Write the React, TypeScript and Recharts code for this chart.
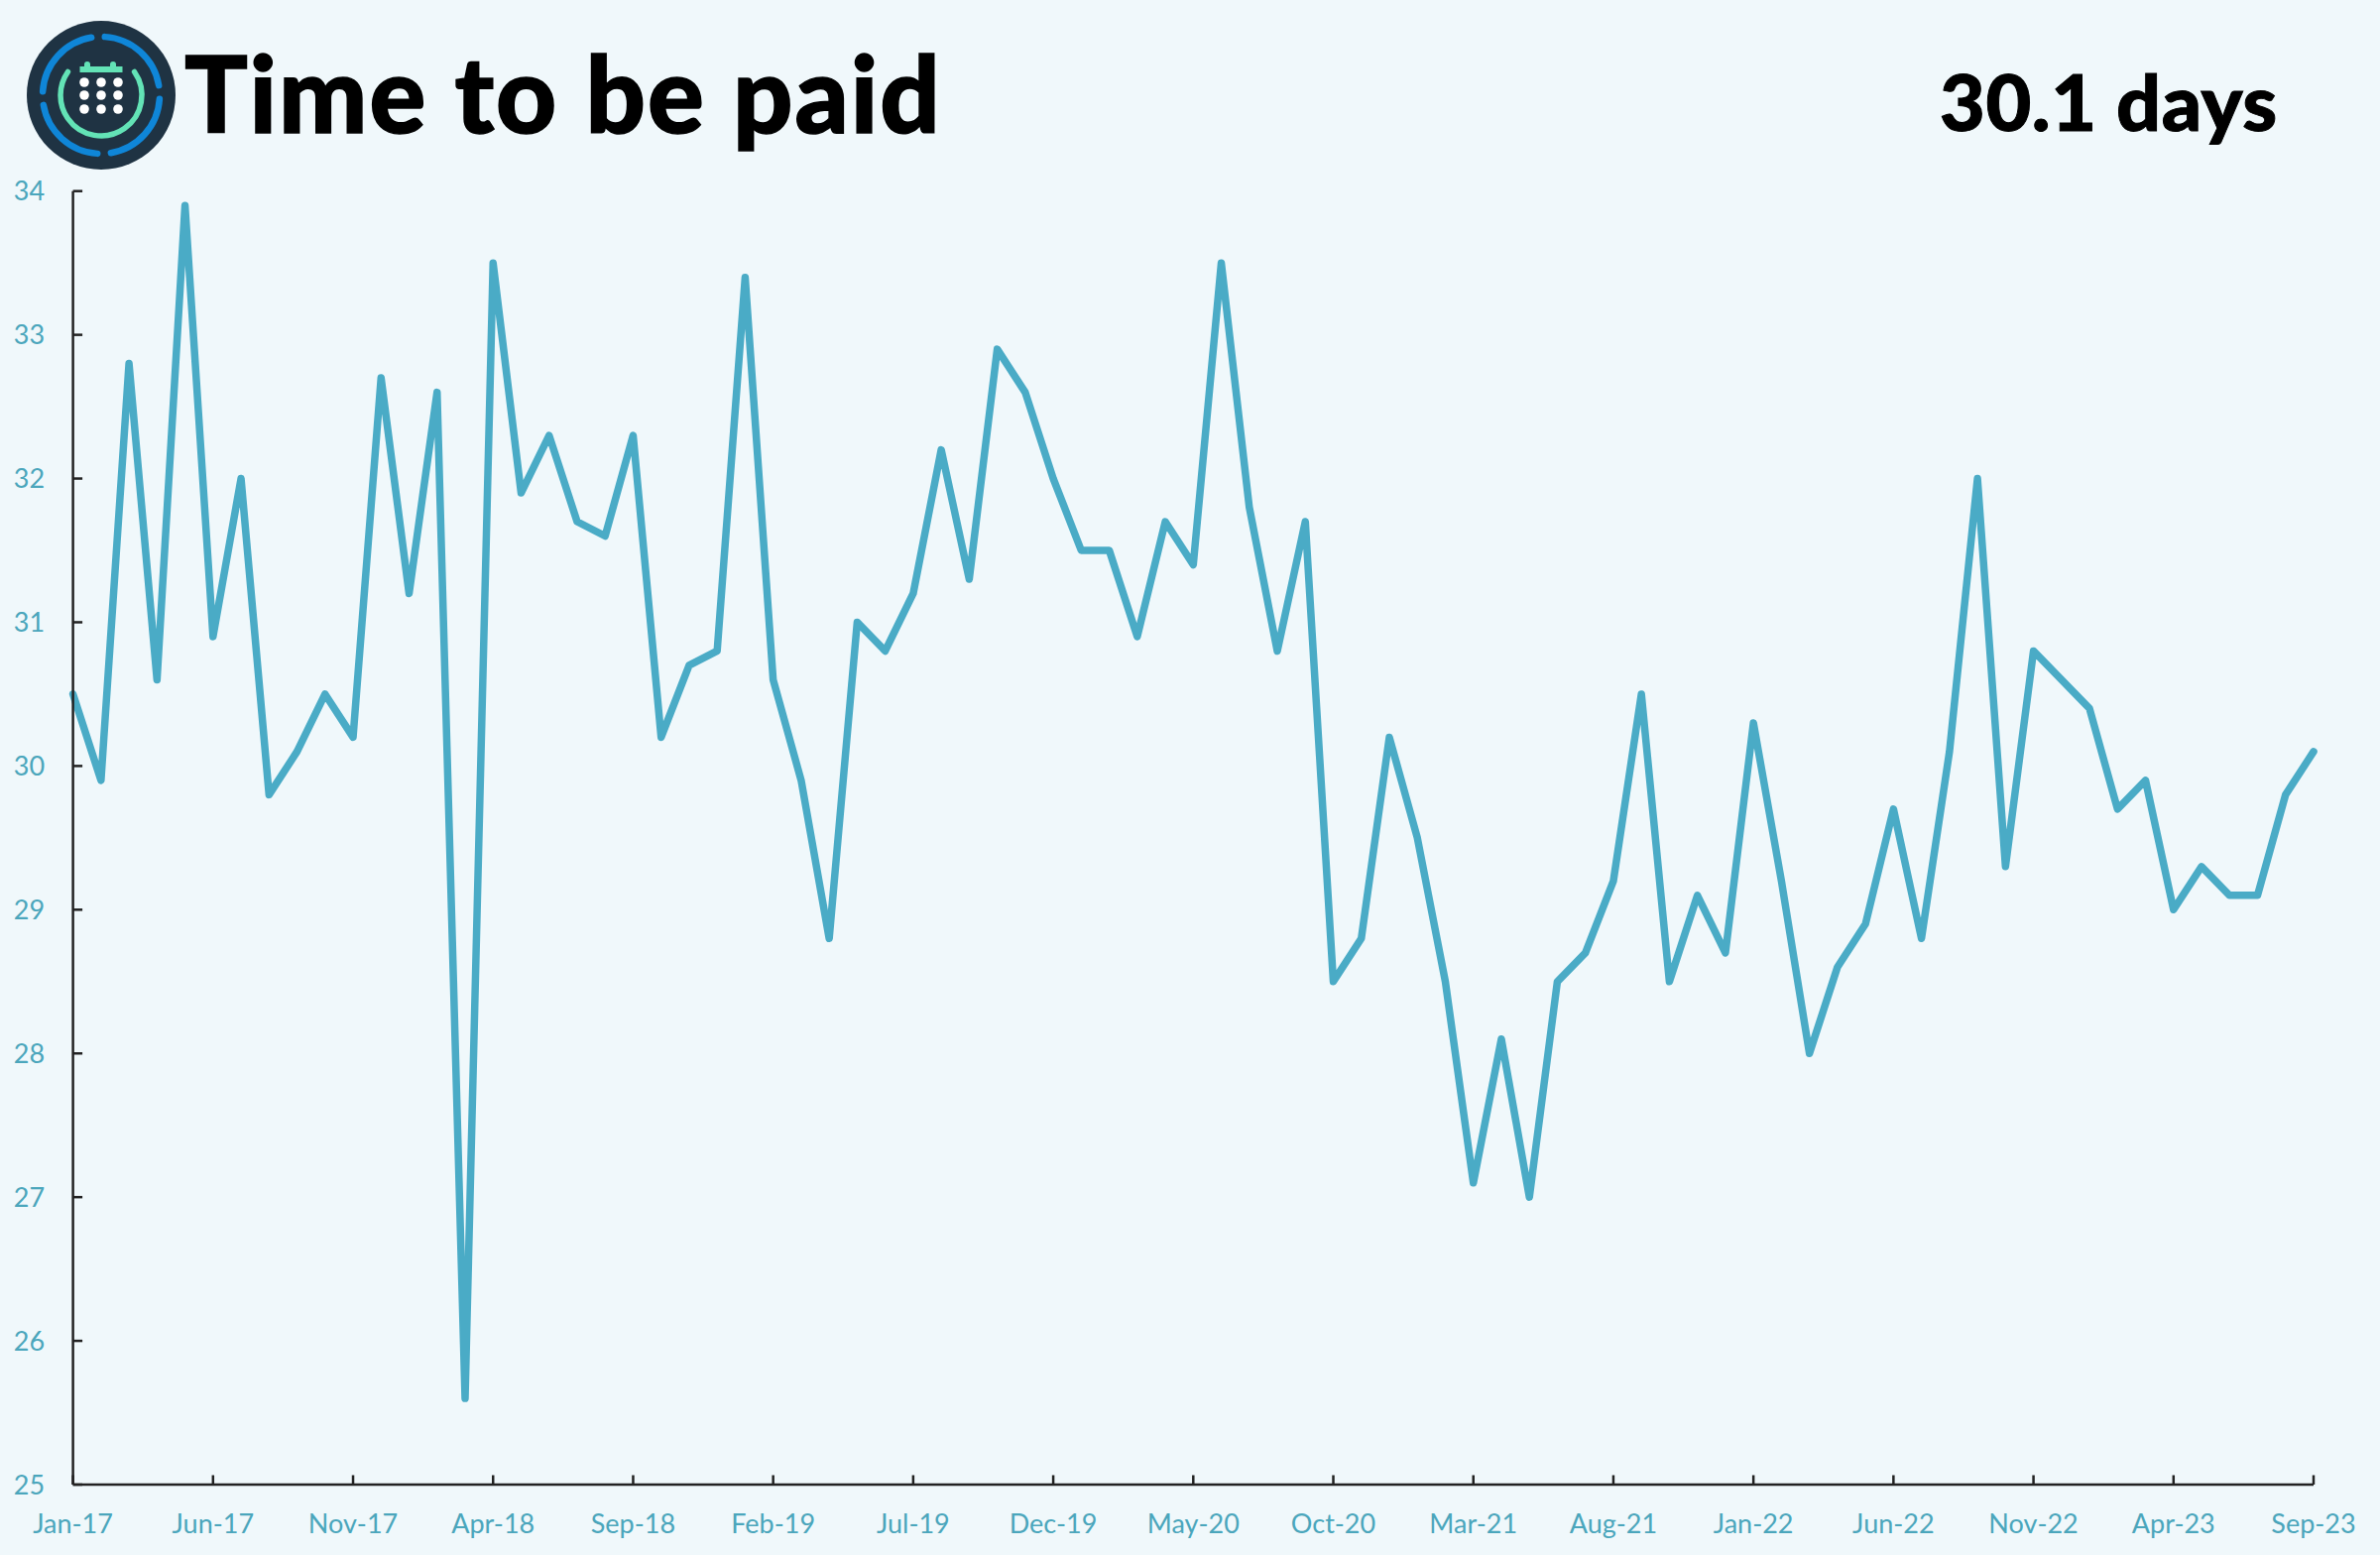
import { LineChart, Line, XAxis, YAxis } from "recharts";

const months = [
  "Jan-17", "Feb-17", "Mar-17", "Apr-17", "May-17", "Jun-17", "Jul-17", "Aug-17", "Sep-17", "Oct-17", "Nov-17", "Dec-17",
  "Jan-18", "Feb-18", "Mar-18", "Apr-18", "May-18", "Jun-18", "Jul-18", "Aug-18", "Sep-18", "Oct-18", "Nov-18", "Dec-18",
  "Jan-19", "Feb-19", "Mar-19", "Apr-19", "May-19", "Jun-19", "Jul-19", "Aug-19", "Sep-19", "Oct-19", "Nov-19", "Dec-19",
  "Jan-20", "Feb-20", "Mar-20", "Apr-20", "May-20", "Jun-20", "Jul-20", "Aug-20", "Sep-20", "Oct-20", "Nov-20", "Dec-20",
  "Jan-21", "Feb-21", "Mar-21", "Apr-21", "May-21", "Jun-21", "Jul-21", "Aug-21", "Sep-21", "Oct-21", "Nov-21", "Dec-21",
  "Jan-22", "Feb-22", "Mar-22", "Apr-22", "May-22", "Jun-22", "Jul-22", "Aug-22", "Sep-22", "Oct-22", "Nov-22", "Dec-22",
  "Jan-23", "Feb-23", "Mar-23", "Apr-23", "May-23", "Jun-23", "Jul-23", "Aug-23", "Sep-23",
];

const days = [
  30.5, 29.9, 32.8, 30.6, 33.9, 30.9, 32.0, 29.8, 30.1, 30.5, 30.2, 32.7,
  31.2, 32.6, 25.6, 33.5, 31.9, 32.3, 31.7, 31.6, 32.3, 30.2, 30.7, 30.8,
  33.4, 30.6, 29.9, 28.8, 31.0, 30.8, 31.2, 32.2, 31.3, 32.9, 32.6, 32.0,
  31.5, 31.5, 30.9, 31.7, 31.4, 33.5, 31.8, 30.8, 31.7, 28.5, 28.8, 30.2,
  29.5, 28.5, 27.1, 28.1, 27.0, 28.5, 28.7, 29.2, 30.5, 28.5, 29.1, 28.7,
  30.3, 29.2, 28.0, 28.6, 28.9, 29.7, 28.8, 30.1, 32.0, 29.3, 30.8, 30.6,
  30.4, 29.7, 29.9, 29.0, 29.3, 29.1, 29.1, 29.8, 30.1,
];

const yTicks = [25, 26, 27, 28, 29, 30, 31, 32, 33, 34];

const chartData = months.map((month, i) => ({ month, days: days[i] }));

const BG = "#f0f8fb";
const LINE = "#4aabc6";
const LABEL = "#4ba6bc";
const FONT = "Lato, sans-serif";

function Logo() {
  const dotX = [-17, 0, 17];
  const dotY = [-13, 0, 14];
  return (
    <svg
      width={150}
      height={150}
      viewBox="-75 -75 150 150"
      style={{ position: "absolute", left: 27, top: 21 }}
    >
      <circle r={75} fill="#1f3343" />
      <circle
        r={59}
        fill="none"
        stroke="#0f86d8"
        strokeWidth={6.5}
        strokeLinecap="round"
        pathLength={360}
        strokeDasharray="76.7 13.3"
        transform="rotate(3.65)"
      />
      <circle
        r={41}
        fill="none"
        stroke="#63e3b6"
        strokeWidth={5.5}
        strokeLinecap="round"
        pathLength={360}
        strokeDasharray="250 110"
        transform="rotate(-35)"
      />
      <rect x={-21.5} y={-29} width={43} height={6} fill="#63e3b6" />
      <rect x={-17} y={-34} width={6} height={8} rx={3} fill="#63e3b6" />
      <rect x={9} y={-34} width={6} height={8} rx={3} fill="#63e3b6" />
      {dotY.map((cy) =>
        dotX.map((cx) => <circle key={`${cx}-${cy}`} cx={cx} cy={cy} r={4.8} fill="#ffffff" />),
      )}
    </svg>
  );
}

export default function App() {
  return (
    <div
      style={{
        position: "absolute",
        left: 0,
        top: 0,
        width: 2400,
        height: 1568,
        background: BG,
        overflow: "hidden",
        fontFamily: FONT,
      }}
    >
      <Logo />
      <div
        style={{
          position: "absolute",
          left: 186,
          top: 28,
          fontSize: 106,
          lineHeight: "130px",
          fontWeight: 900,
          letterSpacing: 2,
          WebkitTextStroke: "1.5px #000",
          color: "#000",
          whiteSpace: "nowrap",
        }}
      >
        Time to be paid
      </div>
      <div
        style={{
          position: "absolute",
          left: 1956,
          top: 52,
          fontSize: 79,
          lineHeight: "100px",
          fontWeight: 900,
          letterSpacing: 0.6,
          WebkitTextStroke: "1px #000",
          color: "#000",
          whiteSpace: "nowrap",
        }}
      >
        30.1 days
      </div>
      <div style={{ position: "absolute", left: 0, top: 0 }}>
        <LineChart
          width={2400}
          height={1568}
          data={chartData}
          margin={{ top: 192.7, right: 67, bottom: 0, left: 0 }}
        >
          <XAxis
            dataKey="month"
            interval={4}
            height={71}
            tickSize={-9.5}
            tickMargin={39}
            axisLine={{ stroke: "#222", strokeWidth: 2.5 }}
            tickLine={{ stroke: "#222", strokeWidth: 2.5 }}
            tick={{ fill: LABEL, fontSize: 27, fontFamily: FONT }}
          />
          <YAxis
            domain={[25, 34]}
            ticks={yTicks}
            interval={0}
            width={73.6}
            tickSize={-9.5}
            tickMargin={38}
            axisLine={{ stroke: "#222", strokeWidth: 2.5 }}
            tickLine={{ stroke: "#222", strokeWidth: 2.5 }}
            tick={{ fill: LABEL, fontSize: 27, fontFamily: FONT }}
          />
          <Line
            dataKey="days"
            stroke={LINE}
            strokeWidth={7.5}
            strokeLinecap="round"
            strokeLinejoin="round"
            dot={false}
            isAnimationActive={false}
          />
        </LineChart>
      </div>
    </div>
  );
}
